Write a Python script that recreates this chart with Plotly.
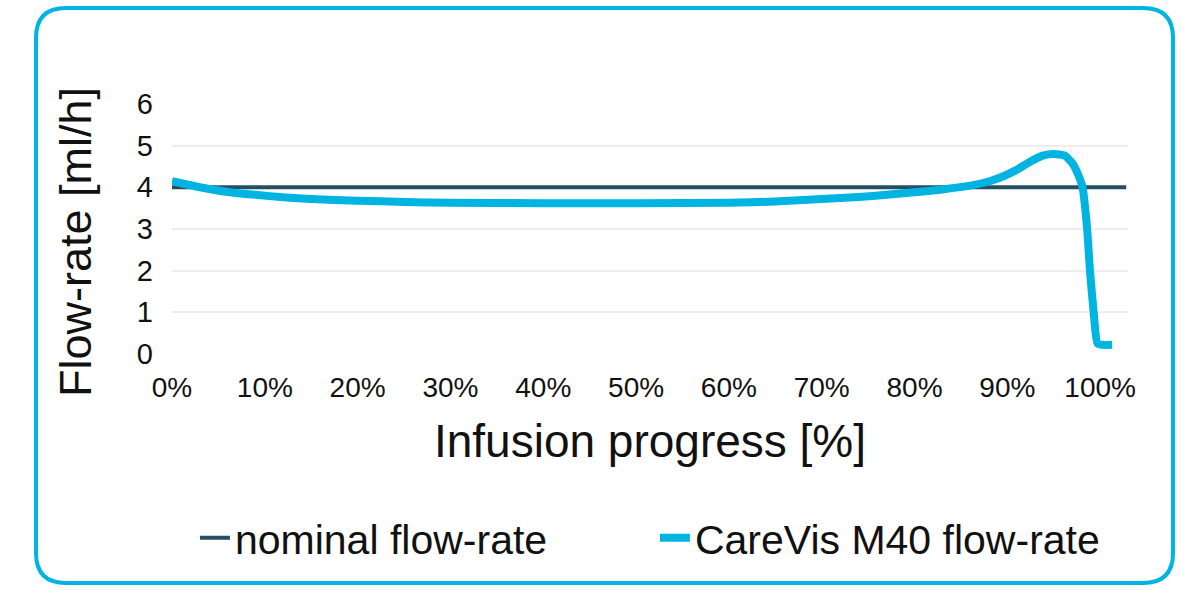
import plotly.graph_objects as go

# Data
nominal_x = [0, 102.8]
nominal_y = [4, 4]

carevis_x = [0, 2, 4, 6, 9, 12, 15, 20, 25, 30, 40, 50, 60, 65, 70, 74, 77, 80, 83, 86,
             88, 89.5, 91, 92.5, 93.8, 95, 96.2, 97, 97.6, 98.1, 98.6, 98.9, 99.3, 99.7,
             100.2, 101.3]
carevis_y = [4.15, 4.05, 3.96, 3.89, 3.82, 3.76, 3.72, 3.68, 3.65, 3.63, 3.62, 3.62, 3.63,
             3.66, 3.72, 3.77, 3.82, 3.88, 3.95, 4.04, 4.14, 4.26, 4.42, 4.62, 4.76, 4.80,
             4.76, 4.58, 4.32, 4.0, 3.0, 2.0, 1.0, 0.26, 0.22, 0.22]

x_ticks = list(range(0, 101, 10))
y_ticks = [0, 1, 2, 3, 4, 5, 6]

W, H = 1181, 591
L, R, T, B = 172, 53, 104, 237
FONT = 'Liberation Sans, Arial, sans-serif'
CYAN = '#00b4e1'
DARK = '#244f62'


def px(x, y):
    # pixel -> paper coords, used for the frame and y title only
    return (x - L) / (W - L - R), (H - B - y) / (H - T - B)


def rounded_rect(x0, y0, x1, y1, r):
    pts = [
        ('M', (x0 + r, y0)), ('L', (x1 - r, y0)), ('Q', (x1, y0), (x1, y0 + r)),
        ('L', (x1, y1 - r)), ('Q', (x1, y1), (x1 - r, y1)),
        ('L', (x0 + r, y1)), ('Q', (x0, y1), (x0, y1 - r)),
        ('L', (x0, y0 + r)), ('Q', (x0, y0), (x0 + r, y0)),
    ]
    out = []
    for p in pts:
        cmd = p[0]
        coords = ' '.join('%.5f,%.5f' % px(*c) for c in p[1:])
        out.append(cmd + coords)
    return ' '.join(out) + ' Z'


fig = go.Figure()

fig.add_trace(go.Scatter(
    x=nominal_x, y=nominal_y, mode='lines', name='nominal flow-rate',
    line=dict(color=DARK, width=4)
))
fig.add_trace(go.Scatter(
    x=carevis_x, y=carevis_y, mode='lines', name='CareVis M40 flow-rate',
    line=dict(color=CYAN, width=8, shape='spline', smoothing=0.5)
))

# rounded frame around the whole chart
fig.add_shape(type='path', xref='paper', yref='paper',
              path=rounded_rect(36, 8, 1173, 583, 30),
              line=dict(color=CYAN, width=4), layer='below')

# y title as annotation so it can sit a bit below the plot centre, like the original
tx, ty = px(75, 242)
fig.add_annotation(text='Flow-rate [ml/h]', xref='paper', yref='paper', x=tx, y=ty,
                   textangle=-90, showarrow=False, xanchor='center', yanchor='middle',
                   font=dict(size=45, color='#111111'))

fig.update_layout(
    width=W, height=H,
    margin=dict(l=L, r=R, t=T, b=B),
    plot_bgcolor='white', paper_bgcolor='white',
    font=dict(family=FONT, color='#111111'),
    showlegend=True,
    legend=dict(orientation='h', x=0.024, xanchor='left', y=-0.736, yanchor='middle',
                font=dict(size=41, color='#111111'), entrywidth=415,
                bgcolor='rgba(0,0,0,0)'),
)

fig.update_xaxes(
    range=[0, 103], tickvals=x_ticks, ticktext=['%d%%' % v for v in x_ticks],
    showgrid=False, zeroline=False, showline=False,
    tickfont=dict(size=28), ticks='', ticklabelstandoff=14,
    title=dict(text='Infusion progress [%]', font=dict(size=46), standoff=22),
)
fig.update_yaxes(
    range=[0, 6], tickvals=y_ticks,
    showgrid=True, gridcolor='#ededed', gridwidth=1.5, zeroline=False, showline=False,
    tickfont=dict(size=29), ticks='', ticklabelstandoff=18,
)

# page body has an 8px default margin; drop it so the figure sits at 0,0
fig.write_html('out.html', config={'displayModeBar': False},
               post_script="document.body.style.margin='0';")
